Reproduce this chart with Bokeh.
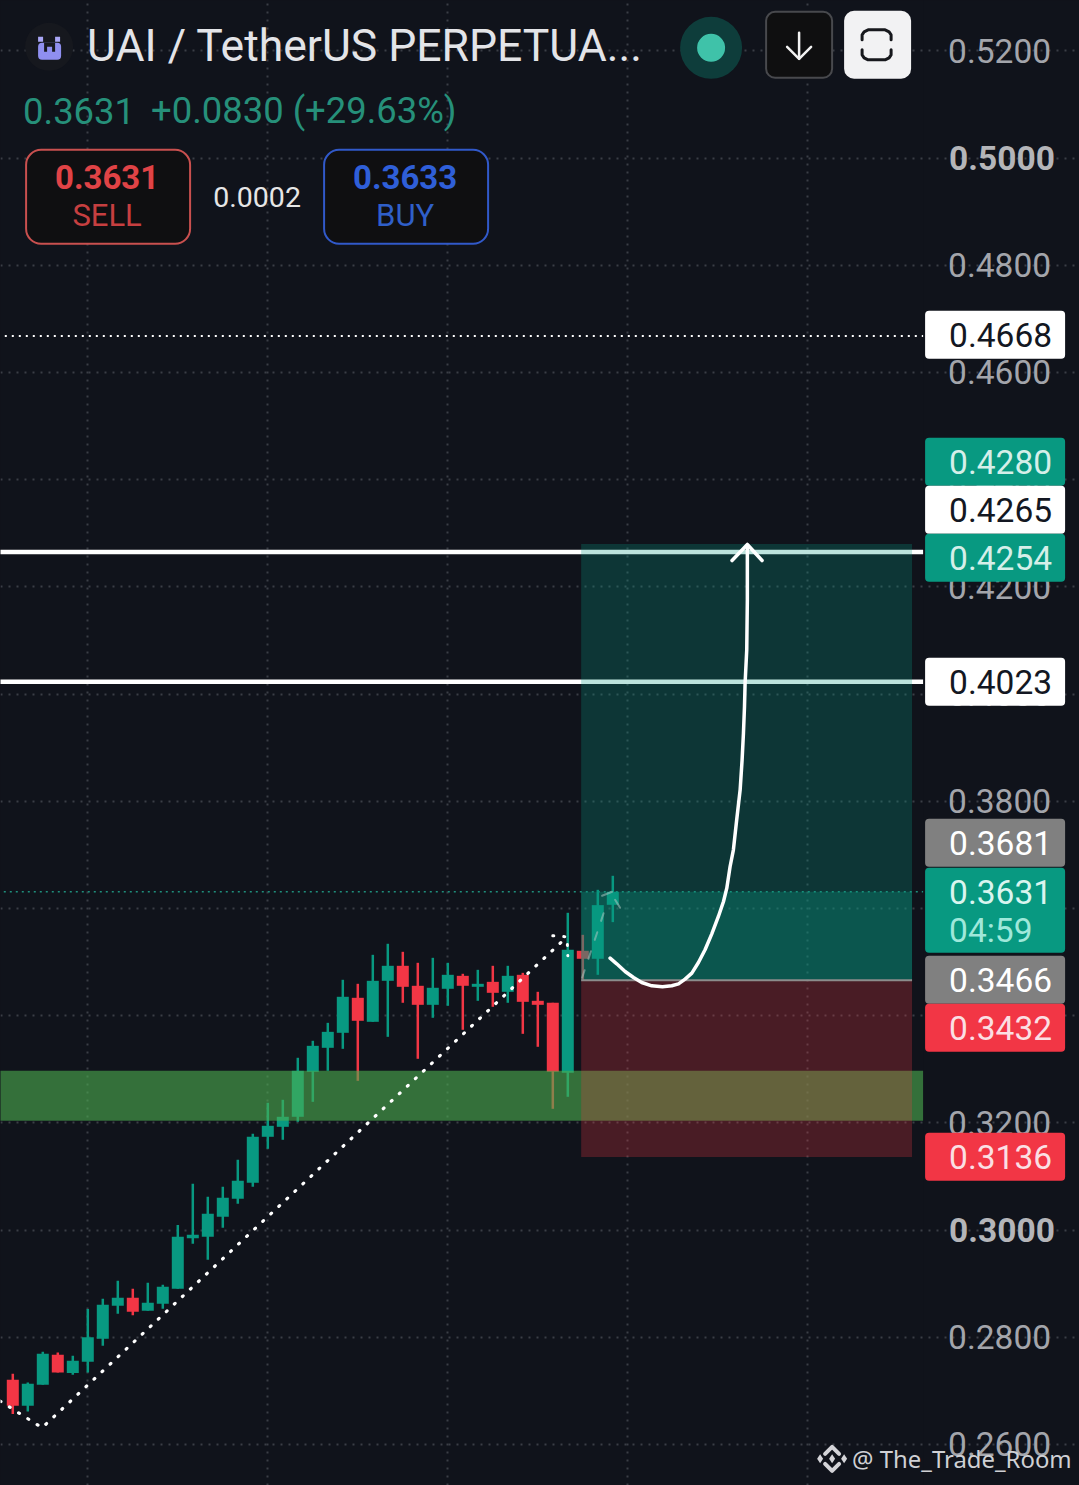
from bokeh.plotting import figure
from bokeh.models import BoxAnnotation, Label, FixedTicker, Range1d
from bokeh.embed import file_html
from bokeh.resources import INLINE

# ---------- data ----------
opens  = [.27205,.26720,.27112,.27672,.27330,.27541,.27970,.28586,.28735,.28493,.28623,.28903,.29848,.29873,.30246,.30582,.30881,.31739,.31925,.32112,
          .32951,.33399,.33679,.34332,.33884,.34649,.34929,.34556,.34201,.34500,.34742,.34537,.34630,.34444,.34761,.34276,.34239,.32932,.35209,.35060,.36067]
closes = [.26720,.27131,.27690,.27342,.27560,.28001,.28605,.28735,.28474,.28642,.28940,.29873,.29910,.30302,.30601,.30918,.31739,.31944,.32112,.32970,
          .33436,.33697,.34351,.33903,.34649,.34929,.34537,.34201,.34519,.34761,.34556,.34593,.34425,.34742,.34257,.34201,.32951,.35228,.35060,.36061,.36310]
highs  = [.27317,.27155,.27728,.27715,.27653,.28524,.28717,.29052,.28903,.29015,.28978,.30091,.30862,.30619,.30806,.31309,.31795,.32373,.32429,.33213,
          .33530,.33865,.34668,.34593,.35134,.35340,.35190,.34985,.35078,.34985,.34780,.34854,.34929,.34929,.34798,.34444,.34239,.35918,.35507,.36347,.36608]
lows   = [.26565,.26613,.27112,.27342,.27299,.27342,.27840,.28437,.28411,.28493,.28530,.28903,.29742,.29444,.30041,.30489,.30806,.31515,.31683,.32019,
          .32391,.32970,.33380,.32783,.33884,.33604,.34239,.33194,.33959,.34183,.33735,.34276,.34164,.34239,.33660,.33418,.32261,.32485,.34668,.34761,.35744]
bars = list(range(len(opens)))

price_ticks = [.26,.28,.30,.32,.34,.36,.38,.40,.42,.44,.46,.48,.50,.52]
bold_ticks = [.30,.50]
time_ticks = [5,17,29,41,53]

last_price = 0.3631
level_white_dotted = 0.4668
levels_white = [0.4265,0.4023]
zone_low, zone_high = 0.3204, 0.3297
target, entry, stop = 0.4280, 0.3466, 0.3136
pos_left, pos_right = 37.89, 59.95
pane_left, pane_right = -1.0, 72

trail_x = [-0.85,1.95,36.95]
trail_y = [0.26810,0.26310,0.35470]
trail2_x = [36.0,36.95,37.0]
trail2_y = [0.35489,0.35470,0.35116]

curve_x = [39.82,40.26,40.82,41.38,41.93,42.60,43.31,43.93,44.38,44.82,45.27,45.71,46.15,46.60,47.04,47.38,47.60,47.82,48.04,48.26,48.49,48.62,48.71,48.78,48.82,48.93,48.97,48.97]
curve_y = [.35072,.34966,.34823,.34711,.34618,.34556,.34537,.34556,.34593,.34680,.34792,.34991,.35228,.35526,.35850,.36129,.36378,.36782,.37093,.37653,.38213,.38772,.39270,.39768,.40203,.40825,.41760,.42750]
head_x = [47.95,48.97,49.95]
head_y = [.4249,.4279,.4249]

tags = [("0.4668",335,"#ffffff","#131722"),("0.4280",462,"#089981","#d5efe9"),("0.4265",510,"#ffffff","#131722"),
        ("0.4254",558,"#089981","#d5efe9"),("0.4023",682,"#ffffff","#131722"),("0.3681",843,"#808080","#ffffff"),
        ("0.3466",980,"#808080","#ffffff"),("0.3432",1028,"#f23645","#fbdfe3"),("0.3136",1157,"#f23645","#fbdfe3")]

BG="#10131b"; UP="#089981"; DOWN="#f23645"; GRID="#3a3e46"
W,H=1079,1485

# reference-pixel -> data helpers for the on-chart furniture
def X(px): return (px-12.7)/15.0
def Y(py): return 0.52-(py-51)/5360.0

p = figure(width=W,height=H,output_backend="svg",toolbar_location=None,
           x_range=Range1d(X(0.4),X(W+0.4)),y_range=Range1d(Y(H+0.7),Y(0.7)),
           x_axis_location=None,y_axis_location="right",
           background_fill_color=BG,border_fill_color=BG,outline_line_color=None,
           min_border_left=0,min_border_top=0,min_border_bottom=0,min_border_right=0)
p.styles={"background-color":BG}

ax=p.yaxis[0]
ax.fixed_location=X(923)
ax.ticker=FixedTicker(ticks=[t for t in price_ticks if t not in bold_ticks])
ax.major_label_overrides={t:f"{t:.4f}" for t in price_ticks}
ax.axis_line_color=None; ax.major_tick_line_color=None; ax.minor_tick_line_color=None
ax.major_label_standoff=19
ax.major_label_text_font="Roboto"; ax.major_label_text_font_size="33.5px"; ax.major_label_text_color="#a3a5ab"

p.ygrid[0].ticker=FixedTicker(ticks=price_ticks)
p.xgrid[0].ticker=FixedTicker(ticks=time_ticks)
for g in (p.xgrid[0],p.ygrid[0]):
    g.grid_line_color=GRID; g.grid_line_dash="2 6"; g.grid_line_width=2

def lab(text,x,y,size,color,font="Roboto",align="left",style="normal"):
    p.add_layout(Label(x=X(x),y=Y(y),text=text,text_font=font,text_font_size=f"{size}px",text_color=color,
                       text_align=align,text_baseline="middle",text_font_style=style))
def box(x0,y0,x1,y1,fill,line=None,lw=0,r=0,alpha=1):
    p.add_layout(BoxAnnotation(left=X(x0),right=X(x1),top=Y(y0),bottom=Y(y1),fill_color=fill,fill_alpha=alpha,
                               line_color=line,line_width=lw,line_alpha=1 if line else 0,border_radius=r))
def pl(xs,ys,color,w,**kw):
    p.line([X(a) for a in xs],[Y(b) for b in ys],line_color=color,line_width=w,line_cap="round",line_join="round",**kw)
def level_lines(ys,**kw):
    p.segment(x0=[pane_left]*len(ys),x1=[X(923)]*len(ys),y0=ys,y1=ys,**kw)

# the price scale pane hides the grid
p.quad(left=[X(923)],right=[pane_right],top=[Y(-5)],bottom=[Y(H+5)],fill_color=BG,line_color=None,level="underlay")

# levels under the candles
level_lines([last_price],line_color="#1f8f7c",line_width=1.5,line_dash="2 4")
level_lines([level_white_dotted],line_color="#ffffff",line_width=2,line_dash="2 5")
level_lines(levels_white,line_color="#ffffff",line_width=4.5)

# candles
cols=[UP if c>=o else DOWN for o,c in zip(opens,closes)]
p.segment(x0=bars,x1=bars,y0=lows,y1=highs,line_color=cols,line_width=2.5)
p.vbar(x=bars,width=0.8,top=[max(o,c) for o,c in zip(opens,closes)],bottom=[min(o,c) for o,c in zip(opens,closes)],
       fill_color=cols,line_color=None)

# demand zone
p.quad(left=[pane_left],right=[X(923)],top=[zone_high],bottom=[zone_low],fill_color="#4caf50",fill_alpha=0.6,line_color=None)

# dotted trend path
p.line(trail_x,trail_y,line_color="#ffffff",line_width=3.2,line_dash="1 10",line_cap="round")
p.line(trail2_x,trail2_y,line_color="#ffffff",line_width=3,line_dash="1 10",line_cap="round")

# long position box
p.quad(left=[pos_left],right=[pos_right],top=[target],bottom=[entry],fill_color=UP,fill_alpha=0.27,line_color=None)
p.quad(left=[pos_left],right=[pos_right],top=[last_price],bottom=[entry],fill_color=UP,fill_alpha=0.33,line_color=None)
p.quad(left=[pos_left],right=[pos_right],top=[entry],bottom=[stop],fill_color=DOWN,fill_alpha=0.25,line_color=None)
p.segment(x0=[pos_left],x1=[pos_right],y0=[entry],y1=[entry],line_color="#8c8c8c",line_width=2)

# faint projected dash
pl([582,606],[978,906],"#a9c4bf",2,line_dash="8 12",line_alpha=0.55)
pl([602,612],[896,892],"#a9c4bf",2,line_alpha=0.55)
pl([615,620],[900,908],"#a9c4bf",2,line_alpha=0.55)

# hand drawn arrow
p.line(curve_x,curve_y,line_color="#ffffff",line_width=3.5,line_cap="round",line_join="round")
p.line(head_x,head_y,line_color="#ffffff",line_width=3.5,line_cap="round",line_join="round")

# header: logo
p.scatter([X(49)],[Y(47)],size=48,marker="circle",fill_color="#16181e",line_color=None)
box(38,37,43,42,"#a9a6f5"); box(55,37,60,42,"#a9a6f5")
box(38,43,61,60,"#8f8ff0",r=4); box(44,43,55,52,"#16181e")
box(47,47,52,55,"#8f8ff0")
lab("UAI / TetherUS PERPETUA...",87,46,44.5,"#e3e4e8")
lab("0.3631",23,111,36.4,"#26907a")
lab("+0.0830 (+29.63%)",151,111,36.4,"#26907a")
box(26,150,190,244,"#0f0f11","#c9504f",2,15)
lab("0.3631",107,177,33,"#e04346",align="center",style="bold")
lab("SELL",107,216,31,"#c63f40",align="center")
lab("0.0002",257,197,28.5,"#e6e6e6",align="center")
box(324,150,488,244,"#0f0f11","#3159c9",2,15)
lab("0.3633",405,177,33,"#2f5fd8",align="center",style="bold")
lab("BUY",405,216,31,"#2f5fc9",align="center")

# header: status, buttons
p.scatter([X(711)],[Y(48)],size=62,marker="circle",fill_color="#0e3d3b",line_color=None)
p.scatter([X(711)],[Y(48)],size=28,marker="circle",fill_color="#3fc2a9",line_color=None)
box(766,12,832,78,"#0f0f10","#48494d",2,9)
box(844,11,911,79,"#f2f2f3",None,0,10)
def late_line(xs,ys,color,w):
    p.line([X(a) for a in xs],[Y(b) for b in ys],line_color=color,line_width=w,line_cap="round",line_join="round",level="overlay")
late_line([799,799],[33,59],"#f2f2f2",2.5)
late_line([787,799,811],[47,59,47],"#f2f2f2",2.5)
late_line([862,862,864,868,885,889,891,891],[40,35,32,30,30,32,35,40],"#17181c",3)
late_line([862,862,864,868,885,889,891,891],[50,55,58,60,60,58,55,50],"#17181c",3)

# axis labels that are bold
for t in bold_ticks:
    p.add_layout(Label(x=X(949),y=t,text=f"{t:.4f}",text_font="Roboto",text_font_size="33.5px",text_font_style="bold",
                       text_color="#b4b5b9",text_baseline="middle"))

# price tags
for txt,yc,fill,tc in tags:
    box(925,yc-24,1065,yc+24,fill,None,0,4)
    lab(txt,949,yc,33.5,tc)
box(925,868,1065,953,"#089981",None,0,4)
lab("0.3631",949,892,33.5,"#d9f5ef")
lab("04:59",949,931,33.5,"#9fe8da")

# watermark
late_line([825,832,839],[1454,1447,1454],"#d4d4d8",4)
late_line([825,832,839],[1464,1471,1464],"#d4d4d8",4)
p.scatter([X(820),X(832),X(844)],[Y(1459)]*3,size=9,marker="diamond",fill_color="#d4d4d8",line_color=None,level="overlay")
lab("@ The_Trade_Room",852,1459,23.9,"#cfd0d4",font="Noto Sans")

open("out.html", "w").write(file_html(p, INLINE))
